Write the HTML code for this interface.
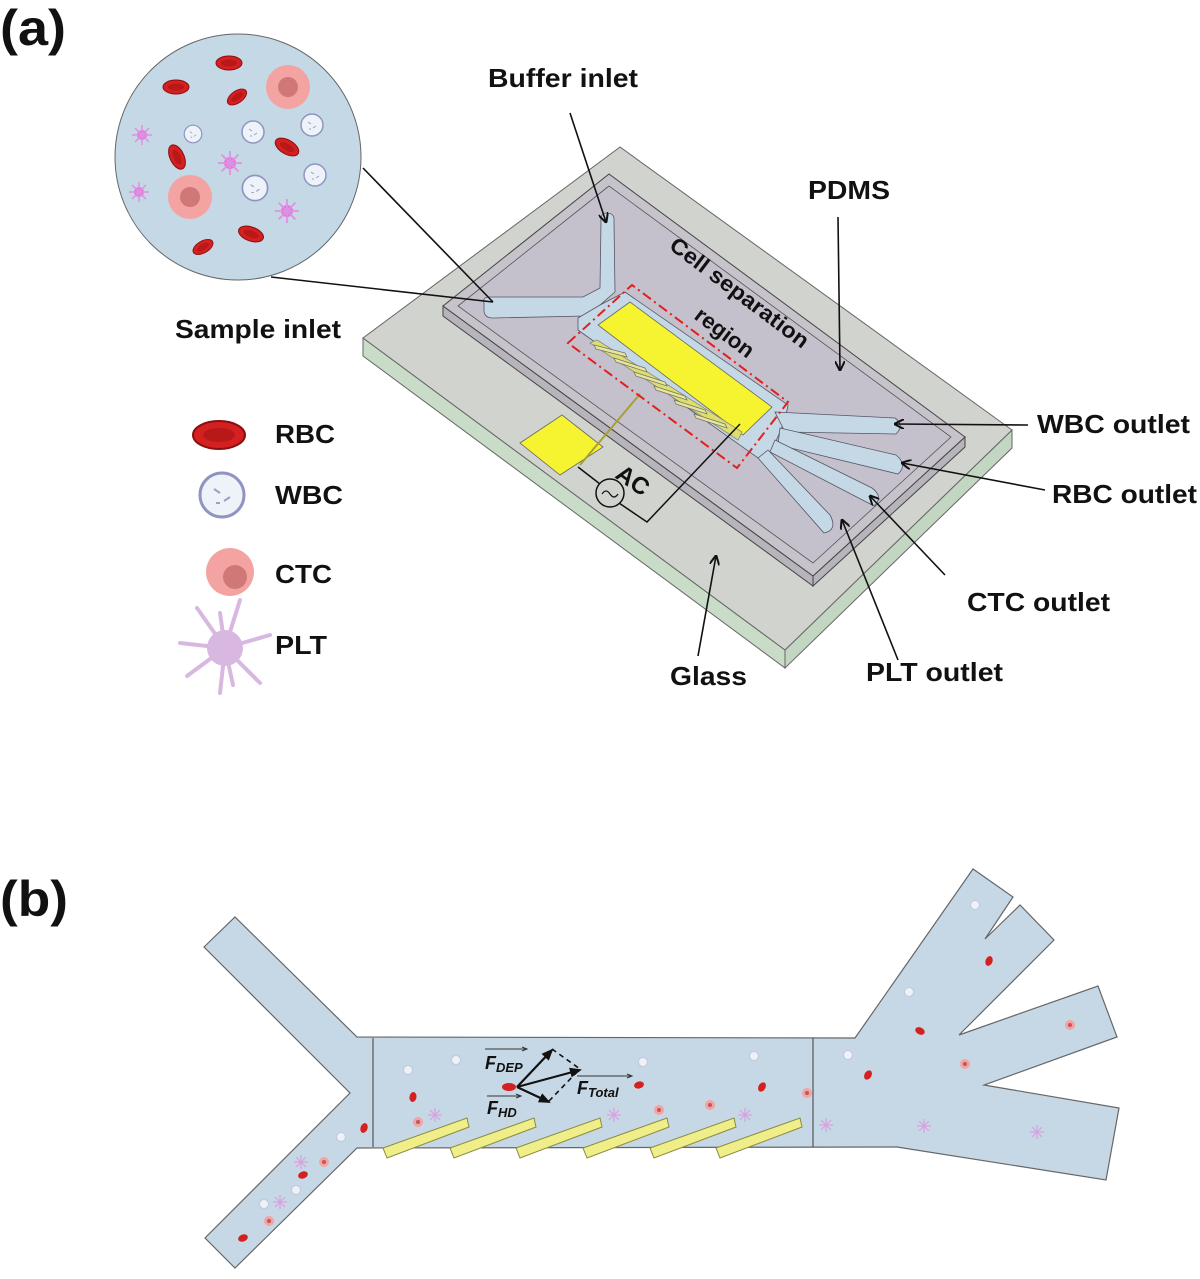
<!DOCTYPE html>
<html><head><meta charset="utf-8"><style>
html,body{margin:0;padding:0;background:#fff;}
svg{display:block;}
text{font-family:"Liberation Sans",Arial,sans-serif;font-weight:bold;fill:#111;}
</style></head><body>
<svg width="1200" height="1279" viewBox="0 0 1200 1279" xmlns="http://www.w3.org/2000/svg">
<defs>
<marker id="ar" markerWidth="10" markerHeight="10" refX="9" refY="5" orient="auto" markerUnits="userSpaceOnUse">
<path d="M0,0 L10,5 L0,10" fill="none" stroke="#111" stroke-width="2"/></marker>
<marker id="ar2" markerWidth="12" markerHeight="10" refX="10" refY="5" orient="auto" markerUnits="userSpaceOnUse">
<path d="M0,0 L12,5 L0,10 z" fill="#111"/></marker>
<g id="rbc"><ellipse rx="13" ry="7" fill="#d42020" stroke="#8a1010" stroke-width="1"/><ellipse rx="8" ry="3.5" fill="#b81818"/></g>
<g id="wbc"><circle r="11" fill="#eef3fa" stroke="#8f95c0" stroke-width="1.5"/><path d="M-4,-3 l3,2 M1,3 l3,-2 M-3,4 l2,0" stroke="#9aa0c8"/></g>
<g id="ctc"><circle r="22" fill="#f4a3a3"/><circle r="10" fill="#d07878"/></g>
<g id="plt"><circle r="5" fill="#e07ae0"/><path d="M-10,0 L10,0 M0,-10 L0,10 M-7,-7 L7,7 M-7,7 L7,-7" stroke="#e090e0" stroke-width="1.5"/></g>
<g id="rs"><ellipse rx="5" ry="3.5" fill="#d42020"/></g>
<g id="ws"><circle r="4.5" fill="#eef2f8" stroke="#c0c6dc"/></g>
<g id="cs"><circle r="5" fill="#f4a3a3"/><circle r="2" fill="#c05858"/></g>
<g id="ps"><path d="M-7,0 L7,0 M0,-7 L0,7 M-5,-5 L5,5 M-5,5 L5,-5" stroke="#d8a0e0" stroke-width="1.2"/></g>
</defs>

<!-- (a) -->
<text x="0" y="45" font-size="50" textLength="66" lengthAdjust="spacingAndGlyphs">(a)</text>

<!-- glass -->
<polygon points="363,338 785,650 785,668 363,356" fill="#c8dcc8" stroke="#666" stroke-width="1"/>
<polygon points="785,650 1012,430 1012,448 785,668" fill="#c2d6c2" stroke="#666" stroke-width="1"/>
<polygon points="620,147 363,338 785,650 1012,430" fill="#d1d3cf" stroke="#666" stroke-width="1"/>
<!-- PDMS -->
<polygon points="443,306 813,576 813,586 443,316" fill="#b8b4bc" stroke="#444" stroke-width="1"/>
<polygon points="813,576 965,437 965,447 813,586" fill="#b8b4bc" stroke="#444" stroke-width="1"/>
<polygon points="609,174 443,306 813,576 965,437" fill="#c6c3cb" stroke="#444" stroke-width="1"/>
<polygon points="609,186 458,306 813,563 951,437" fill="#c5c1cc" stroke="#555" stroke-width="0.8"/>

<!-- channels -->
<g fill="#c5d8e6" stroke="#556" stroke-width="0.8">
<path d="M484,303 Q482,297 490,297 L583,297 L600,288 L601,222 Q600,213 607,213 Q615,213 614,222 L615,292 L600,305 L585,316 L493,318 Q484,318 484,310 Z"/>
<polygon points="578,318 600,305 625,292 788,405 785,420 770,455 758,458 578,330"/>
<path d="M775,412 L895,418 Q905,425 896,434 L785,432 Z"/>
<path d="M780,428 L896,455 Q908,465 898,474 L778,445 Z"/>
<path d="M775,440 L872,488 Q884,497 874,506 L770,452 Z"/>
<path d="M768,450 L830,515 Q838,530 824,533 L758,458 Z"/>
</g>
<!-- yellow electrodes -->
<polygon points="630,302 598,325 743,435 772,407" fill="#f6f430" stroke="#666" stroke-width="0.8"/>
<polygon points="590,343 597,340 742,432 738,440" fill="#dede70" stroke="#888" stroke-width="0.8"/>
<g stroke="#776" stroke-width="0.8" fill="#e6e6a0">
<polygon points="594,345 625,353 627,357 596,349"/>
<polygon points="614,358 645,368 647,372 616,362"/>
<polygon points="634,372 665,382 667,386 636,376"/>
<polygon points="654,386 685,396 687,400 656,390"/>
<polygon points="674,400 705,410 707,414 676,404"/>
<polygon points="694,414 725,424 727,428 696,418"/>
</g>
<polygon points="520,443 562,415 603,447 560,475" fill="#f6f430" stroke="#666" stroke-width="0.8"/>
<line x1="580" y1="465" x2="640" y2="394" stroke="#a8a030" stroke-width="2"/>
<!-- red dashed region -->
<polygon points="568,343 632,285 788,402 737,468" fill="none" stroke="#e02020" stroke-width="2" stroke-dasharray="10,4,2,4"/>
<!-- AC circuit -->
<polyline points="578,467 600,484" fill="none" stroke="#111" stroke-width="1.5"/>
<circle cx="610" cy="493" r="14" fill="none" stroke="#111" stroke-width="1.5"/>
<path d="M602,494 q4,-6 8,0 q4,6 8,0" fill="none" stroke="#111" stroke-width="1.2"/>
<polyline points="619,503 647,522 740,424" fill="none" stroke="#111" stroke-width="1.5"/>
<text x="0" y="0" font-size="24" transform="translate(614,477) rotate(35)">AC</text>
<text font-size="22" transform="translate(668,248) rotate(37)" textLength="168" lengthAdjust="spacingAndGlyphs">Cell separation</text>
<text font-size="22" transform="translate(693,318) rotate(37)" textLength="68" lengthAdjust="spacingAndGlyphs">region</text>

<!-- callout circle -->
<circle cx="238" cy="157" r="123" fill="#c5d8e6" stroke="#666" stroke-width="1"/>
<line x1="363" y1="168" x2="493" y2="302" stroke="#111" stroke-width="1.6"/>
<line x1="271" y1="277" x2="493" y2="302" stroke="#111" stroke-width="1.6"/>
<use href="#rbc" transform="translate(229,63)"/>
<use href="#rbc" transform="translate(176,87)"/>
<use href="#rbc" transform="translate(237,97) rotate(-35) scale(0.85)"/>
<use href="#rbc" transform="translate(177,157) rotate(65)"/>
<use href="#rbc" transform="translate(287,147) rotate(30)"/>
<use href="#rbc" transform="translate(251,234) rotate(20)"/>
<use href="#rbc" transform="translate(203,247) rotate(-30) scale(0.85)"/>
<use href="#ctc" transform="translate(288,87)"/>
<use href="#ctc" transform="translate(190,197)"/>
<use href="#wbc" transform="translate(193,134) scale(0.8)"/>
<use href="#wbc" transform="translate(253,132)"/>
<use href="#wbc" transform="translate(312,125)"/>
<use href="#wbc" transform="translate(255,188) scale(1.15)"/>
<use href="#wbc" transform="translate(315,175)"/>
<use href="#plt" transform="translate(142,135)"/>
<use href="#plt" transform="translate(230,163) scale(1.2)"/>
<use href="#plt" transform="translate(139,192)"/>
<use href="#plt" transform="translate(287,211) scale(1.2)"/>

<!-- labels & arrows -->
<text x="488" y="87" font-size="26" textLength="150" lengthAdjust="spacingAndGlyphs">Buffer inlet</text>
<line x1="570" y1="113" x2="606" y2="222" stroke="#111" stroke-width="1.6" marker-end="url(#ar)"/>
<text x="175" y="338" font-size="26" textLength="166" lengthAdjust="spacingAndGlyphs">Sample inlet</text>
<text x="808" y="199" font-size="26" textLength="82" lengthAdjust="spacingAndGlyphs">PDMS</text>
<line x1="838" y1="217" x2="840" y2="370" stroke="#111" stroke-width="1.6" marker-end="url(#ar)"/>
<text x="1037" y="433" font-size="26" textLength="153" lengthAdjust="spacingAndGlyphs">WBC outlet</text>
<line x1="1028" y1="425" x2="895" y2="424" stroke="#111" stroke-width="1.6" marker-end="url(#ar)"/>
<text x="1052" y="503" font-size="26" textLength="145" lengthAdjust="spacingAndGlyphs">RBC outlet</text>
<line x1="1045" y1="490" x2="902" y2="463" stroke="#111" stroke-width="1.6" marker-end="url(#ar)"/>
<text x="967" y="611" font-size="26" textLength="143" lengthAdjust="spacingAndGlyphs">CTC outlet</text>
<line x1="945" y1="575" x2="870" y2="496" stroke="#111" stroke-width="1.6" marker-end="url(#ar)"/>
<text x="866" y="681" font-size="26" textLength="137" lengthAdjust="spacingAndGlyphs">PLT outlet</text>
<line x1="898" y1="660" x2="842" y2="520" stroke="#111" stroke-width="1.6" marker-end="url(#ar)"/>
<text x="670" y="685" font-size="26" textLength="77" lengthAdjust="spacingAndGlyphs">Glass</text>
<line x1="698" y1="656" x2="716" y2="556" stroke="#111" stroke-width="1.6" marker-end="url(#ar)"/>

<!-- legend -->
<g transform="translate(219,435) scale(2)"><use href="#rbc"/></g>
<g transform="translate(222,495) scale(2)"><use href="#wbc"/></g>
<g transform="translate(230,572)"><circle r="24" fill="#f4a3a3"/><circle cx="5" cy="5" r="12" fill="#d07878"/></g>
<g transform="translate(225,648)" stroke="#d8b8e0" stroke-width="4" stroke-linecap="round" fill="none">
<path d="M0,0 L-45,-5 M0,0 L-28,-40 M0,0 L-5,-35 M0,0 L15,-48 M0,0 L45,-13 M0,0 L35,35 M0,0 L8,37 M0,0 L-5,45 M0,0 L-38,28"/>
<circle r="18" fill="#d8b8e0" stroke="none"/></g>
<text x="275" y="443" font-size="26" textLength="60" lengthAdjust="spacingAndGlyphs">RBC</text>
<text x="275" y="504" font-size="26" textLength="68" lengthAdjust="spacingAndGlyphs">WBC</text>
<text x="275" y="583" font-size="26" textLength="57" lengthAdjust="spacingAndGlyphs">CTC</text>
<text x="275" y="654" font-size="26" textLength="52" lengthAdjust="spacingAndGlyphs">PLT</text>

<!-- (b) -->
<text x="0" y="916" font-size="50" textLength="68" lengthAdjust="spacingAndGlyphs">(b)</text>
<polygon points="204,947 235,917 357,1037 855,1038 973,869 1013,897 985,939 1020,905 1054,940 959,1035 1098,986 1117,1037 984,1085 1119,1108 1106,1180 897,1147 357,1148 235,1268 205,1238 350,1093" fill="#c6d8e6" stroke="#666" stroke-width="1.2"/>
<line x1="373" y1="1038" x2="373" y2="1147" stroke="#555" stroke-width="1.2"/>
<line x1="813" y1="1038" x2="813" y2="1147" stroke="#555" stroke-width="1.2"/>
<g fill="#f0ee88" stroke="#8a8a40" stroke-width="1">
<polygon points="383,1148 467,1118 469,1127 387,1158"/>
<polygon points="450,1148 534,1118 536,1127 454,1158"/>
<polygon points="516,1148 600,1118 602,1127 520,1158"/>
<polygon points="583,1148 667,1118 669,1127 587,1158"/>
<polygon points="650,1148 734,1118 736,1127 654,1158"/>
<polygon points="716,1148 800,1118 802,1127 720,1158"/>
</g>
<!-- small cells -->
<use href="#rs" transform="translate(243,1238) rotate(-20)"/>
<use href="#rs" transform="translate(303,1175) rotate(-20)"/>
<use href="#rs" transform="translate(364,1128) rotate(-70)"/>
<use href="#rs" transform="translate(413,1097) rotate(-80)"/>
<use href="#rs" transform="translate(639,1085) rotate(-15)"/>
<use href="#rs" transform="translate(762,1087) rotate(-60)"/>
<use href="#rs" transform="translate(868,1075) rotate(-60)"/>
<use href="#rs" transform="translate(920,1031) rotate(25)"/>
<use href="#rs" transform="translate(989,961) rotate(-70)"/>
<use href="#ws" transform="translate(264,1204)"/>
<use href="#ws" transform="translate(296,1190)"/>
<use href="#ws" transform="translate(341,1137)"/>
<use href="#ws" transform="translate(408,1070)"/>
<use href="#ws" transform="translate(456,1060)"/>
<use href="#ws" transform="translate(643,1062)"/>
<use href="#ws" transform="translate(754,1056)"/>
<use href="#ws" transform="translate(848,1055)"/>
<use href="#ws" transform="translate(909,992)"/>
<use href="#ws" transform="translate(975,905)"/>
<use href="#cs" transform="translate(269,1221)"/>
<use href="#cs" transform="translate(324,1162)"/>
<use href="#cs" transform="translate(418,1122)"/>
<use href="#cs" transform="translate(659,1110)"/>
<use href="#cs" transform="translate(710,1105)"/>
<use href="#cs" transform="translate(807,1093)"/>
<use href="#cs" transform="translate(965,1064)"/>
<use href="#cs" transform="translate(1070,1025)"/>
<use href="#ps" transform="translate(301,1162)"/>
<use href="#ps" transform="translate(280,1202)"/>
<use href="#ps" transform="translate(435,1115)"/>
<use href="#ps" transform="translate(614,1115)"/>
<use href="#ps" transform="translate(745,1115)"/>
<use href="#ps" transform="translate(826,1125)"/>
<use href="#ps" transform="translate(924,1126)"/>
<use href="#ps" transform="translate(1037,1132)"/>
<!-- force vectors -->
<ellipse cx="509" cy="1087" rx="7" ry="4" fill="#d42020"/>
<line x1="517" y1="1087" x2="552" y2="1050" stroke="#111" stroke-width="2.2" marker-end="url(#ar2)"/>
<line x1="517" y1="1087" x2="549" y2="1102" stroke="#111" stroke-width="2.2" marker-end="url(#ar2)"/>
<line x1="517" y1="1087" x2="580" y2="1070" stroke="#111" stroke-width="2.2" marker-end="url(#ar2)"/>
<line x1="552" y1="1049" x2="580" y2="1069" stroke="#111" stroke-width="1.6" stroke-dasharray="5,4"/>
<line x1="549" y1="1101" x2="578" y2="1071" stroke="#111" stroke-width="1.6" stroke-dasharray="5,4"/>
<text x="485" y="1069" font-size="18" font-weight="normal" font-family="Liberation Serif,serif" font-style="italic" fill="#333">F<tspan font-size="13" dy="3">DEP</tspan></text>
<text x="487" y="1114" font-size="18" font-weight="normal" font-family="Liberation Serif,serif" font-style="italic" fill="#333">F<tspan font-size="13" dy="3">HD</tspan></text>
<text x="577" y="1094" font-size="18" font-weight="normal" font-family="Liberation Serif,serif" font-style="italic" fill="#333">F<tspan font-size="13" dy="3">Total</tspan></text>
<g stroke="#333" stroke-width="1">
<line x1="485" y1="1049" x2="527" y2="1049"/><path d="M522,1047 L527,1049 L522,1051" fill="none"/>
<line x1="487" y1="1096" x2="521" y2="1096"/><path d="M516,1094 L521,1096 L516,1098" fill="none"/>
<line x1="577" y1="1076" x2="632" y2="1076"/><path d="M627,1074 L632,1076 L627,1078" fill="none"/>
</g>
</svg>
</body></html>
